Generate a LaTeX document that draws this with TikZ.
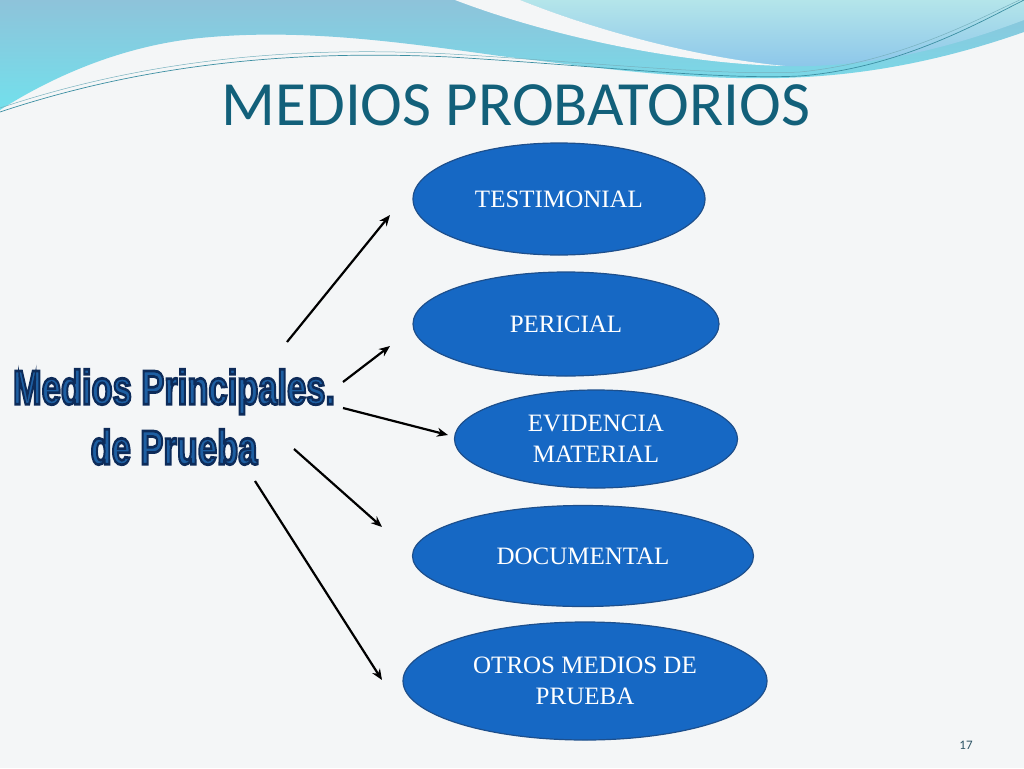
\documentclass[tikz,border=0pt]{standalone}
\usepackage{fontspec}
\setmainfont{Liberation Serif}
\newfontfamily\titlefont{Carlito}
\newfontfamily\headfont{Liberation Sans}
\usetikzlibrary{shapes.geometric,arrows.meta}
\definecolor{bgc}{HTML}{F4F6F7}
\definecolor{bandtop}{HTML}{8EC3DA}
\definecolor{bandbot}{HTML}{72E0EC}
\definecolor{lighttop}{HTML}{B4E5EA}
\definecolor{lightbot}{HTML}{8CC6EA}
\definecolor{titlec}{HTML}{12607A}
\definecolor{ellfill}{HTML}{1668C4}
\definecolor{elldraw}{HTML}{1D4F8C}
\definecolor{headfill}{HTML}{1E5FA2}
\definecolor{thinline}{HTML}{3C8FA2}
\definecolor{numc}{HTML}{2E5566}
\newcommand\outltext[1]{\special{pdf:literal direct 2 Tr 2.6 w 0.05 0.17 0.35 RG}#1\special{pdf:literal direct 0 Tr}}
\tikzset{
  medio/.style={ellipse, draw=elldraw, line width=1.2pt, fill=ellfill, text=white,
    inner sep=0pt, align=center, font=\fontsize{25}{31}\selectfont},
  arr/.style={line width=2.2pt, -{Stealth[length=11pt,width=9pt]}},
}
\begin{document}
\begin{tikzpicture}[x=1pt,y=-1pt]
\useasboundingbox (0,0) rectangle (1024,768);
\fill[bgc] (0,0) rectangle (1024,768);
% top wave band
\shade[top color=bandtop, bottom color=bandbot]
  (0,0) -- (1024,0) -- (1024,32) .. controls (950,58) and (870,76) .. (780,78)
  .. controls (680,80) and (600,68) .. (500,56) .. controls (400,42) and (300,28) .. (200,38)
  .. controls (120,46) and (50,78) .. (0,110) -- cycle;
% light right region
\shade[top color=lighttop, bottom color=lightbot]
  (520,0) .. controls (600,32) and (700,58) .. (785,66)
  .. controls (880,68) and (960,44) .. (1024,20) -- (1024,0) -- cycle;
% white swoosh
\fill[bgc] (455,0) -- (520,0) .. controls (600,32) and (700,58) .. (785,66)
  .. controls (690,64) and (560,40) .. (455,0) -- cycle;
% thin lines
\draw[thinline, line width=0.7pt] (0,112) .. controls (150,62) and (300,50) .. (450,57)
  .. controls (600,66) and (720,80) .. (800,76) .. controls (900,68) and (980,22) .. (1024,0);
\draw[thinline!70, line width=0.5pt] (0,108) .. controls (150,58) and (300,46) .. (450,54)
  .. controls (600,63) and (720,76) .. (800,72) .. controls (900,62) and (980,18) .. (1024,-2);
% title
\node[text=titlec, font=\titlefont\fontsize{63}{70}\selectfont, anchor=base] (title) at (516,125) {MEDIOS PROBATORIOS};
% ellipses
\node[medio, minimum width=292pt, minimum height=112pt] (testimonial) at (559,199) {TESTIMONIAL};
\node[medio, minimum width=306pt, minimum height=104pt] (pericial) at (566,324) {PERICIAL};
\node[medio, minimum width=283pt, minimum height=98pt] (evidencia) at (596,439) {EVIDENCIA\\MATERIAL};
\node[medio, minimum width=341pt, minimum height=101pt] (documental) at (583,556) {DOCUMENTAL};
\node[medio, minimum width=364pt, minimum height=118pt] (otros) at (585,681) {OTROS MEDIOS DE\\PRUEBA};
% source text
\node[align=center, text=headfill, font=\headfont\bfseries\fontsize{46}{60}\selectfont] (medios) at (174,417)
  {\scalebox{0.75}[1.05]{\outltext{Medios Principales.}}\\\scalebox{0.75}[1.05]{\outltext{de Prueba}}};
% arrow end points
\coordinate (s1) at (287,342); \coordinate (e1) at (390,215);
\coordinate (s2) at (343,382); \coordinate (e2) at (390,346);
\coordinate (s3) at (343,408); \coordinate (e3) at (448,435);
\coordinate (s4) at (294,449); \coordinate (e4) at (382,527);
\coordinate (s5) at (255,481); \coordinate (e5) at (382,680);
\draw[arr] (s1) -- (e1);
\draw[arr] (s2) -- (e2);
\draw[arr] (s3) -- (e3);
\draw[arr] (s4) -- (e4);
\draw[arr] (s5) -- (e5);
% page number
\node[text=numc, font=\titlefont\fontsize{13}{15}\selectfont] (num) at (966,745) {17};
\end{tikzpicture}
\end{document}
